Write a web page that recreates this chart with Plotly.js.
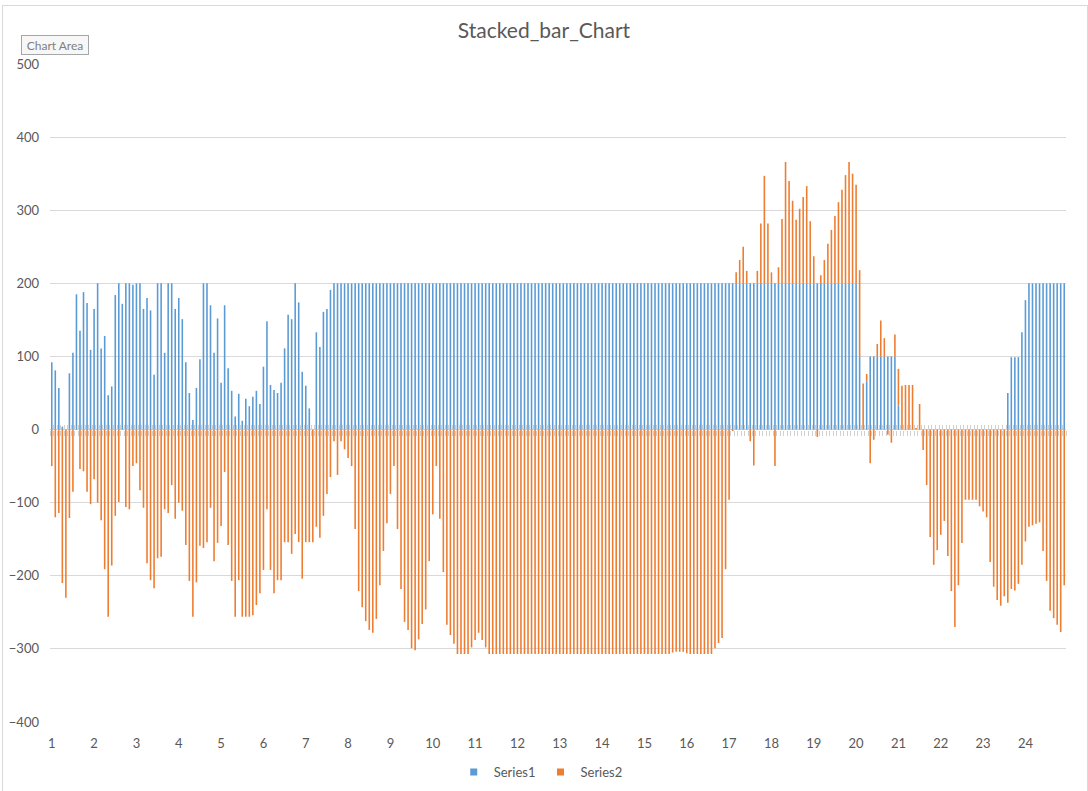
<!DOCTYPE html>
<html>
<head>
<meta charset="utf-8">
<script src="https://cdn.plot.ly/plotly-3.0.1.min.js"></script>
<style>
  html, body { margin: 0; padding: 0; background: #ffffff; }
  #wrap { position: relative; width: 1088px; height: 791px; }
  #chart { width: 1088px; height: 791px; }
  #frame { position: absolute; left: 2px; top: 5px; right: 0px; bottom: -2px; border: 1px solid #d9d9d9; pointer-events: none; }
</style>
</head>
<body>
<div id="wrap">
  <div id="chart"></div>
  <div id="frame"></div>
</div>
<script>
// Tick labels on the category axis (one label every 12 categories)
const hourLabels = ['1','2','3','4','5','6','7','8','9','10','11','12','13','14','15','16','17','18','19','20','21','22','23','24'];
const slotsPerHour = 12;

// Series1 (blue), 288 categories
const series1 = [
  92,81,57,4,0,77,105,185,135,188,
  173,109,165,200,111,128,47,59,184,200,
  172,200,200,198,200,200,165,180,163,75,
  200,200,105,200,200,165,180,151,92,50,
  13,57,96,200,200,170,105,152,64,170,
  84,53,18,49,12,42,32,45,53,35,
  86,148,61,54,50,64,111,157,151,200,
  174,79,60,29,0,133,113,161,165,191,
  200,200,200,200,200,200,200,200,200,200,
  200,200,200,200,200,200,200,200,200,200,
  200,200,200,200,200,200,200,200,200,200,
  200,200,200,200,200,200,200,200,200,200,
  200,200,200,200,200,200,200,200,200,200,
  200,200,200,200,200,200,200,200,200,200,
  200,200,200,200,200,200,200,200,200,200,
  200,200,200,200,200,200,200,200,200,200,
  200,200,200,200,200,200,200,200,200,200,
  200,200,200,200,200,200,200,200,200,200,
  200,200,200,200,200,200,200,200,200,200,
  200,200,200,200,200,200,200,200,200,200,
  200,200,200,200,200,200,200,200,200,200,
  200,200,200,200,200,200,200,200,200,200,
  200,200,200,200,200,200,200,200,200,100,
  0,66,100,100,100,100,100,100,100,100,
  33,0,0,0,0,0,0,0,0,0,
  0,0,0,0,0,0,0,0,0,0,
  0,0,0,0,0,0,0,0,0,0,
  0,50,99,99,99,133,177,200,200,200,
  200,200,200,200,200,200,200,200
];

// Series2 (orange), 288 categories
const series2 = [
  -50,-120,-114,-210,-230,-121,-85,0,-54,-57,
  -85,-102,-68,-100,-124,-191,-256,-186,-118,-99,
  0,-106,-109,-50,-46,-83,-107,-183,-206,-217,
  -176,-174,-109,-114,-76,-122,-100,-111,-158,-207,
  -256,-209,-159,-162,-154,-107,-180,-155,-132,-58,
  -158,-207,-256,-206,-256,-256,-256,-254,-240,-224,
  -192,-109,-192,-224,-206,-206,-154,-154,-170,-143,
  -154,-204,-154,-154,-154,-133,-148,-118,-88,-65,
  -16,-62,-16,-27,-39,-50,-136,-221,-243,-262,
  -274,-278,-259,-213,-166,-128,-88,-50,-136,-218,
  -263,-274,-299,-302,-287,-266,-246,-180,-116,-50,
  -122,-195,-267,-281,-293,-307,-307,-307,-307,-298,
  -288,-278,-288,-298,-307,-307,-307,-307,-307,-307,
  -307,-307,-307,-307,-307,-307,-307,-307,-307,-307,
  -307,-307,-307,-307,-307,-307,-307,-307,-307,-307,
  -307,-307,-307,-307,-307,-307,-307,-307,-307,-307,
  -307,-307,-307,-307,-307,-307,-307,-307,-307,-307,
  -307,-307,-307,-307,-307,-307,-305,-304,-304,-304,
  -306,-307,-307,-307,-307,-307,-307,-307,-299,-292,
  -285,-191,-96,-2,15,32,50,17,-16,-49,
  17,82,147,82,15,-50,22,88,166,140,
  113,87,102,118,133,85,37,-10,11,32,
  54,73,92,111,128,148,166,150,135,118,
  63,10,-46,-14,17,49,25,-7,-18,30,
  50,60,61,61,61,2,35,-28,-76,-147,
  -185,-165,-144,-125,-173,-221,-270,-213,-155,-96,
  -96,-96,-96,-105,-112,-120,-181,-215,-233,-241,
  -228,-237,-218,-220,-211,-185,-153,-133,-131,-129,
  -127,-166,-207,-248,-258,-267,-277,-213
];

const seriesNames = ['Series1', 'Series2'];
const seriesColors = ['#5B9BD5', '#ED7D31'];

// category positions (one per value) and the labelled categories
const xs = series1.map((_, i) => i);
const tickPositions = hourLabels.map((_, k) => k * slotsPerHour);

const yMin = -400, yMax = 500;
const zeroFrac = (0 - yMin) / (yMax - yMin);
const xRange = [-0.5, series1.length - 0.5];

const txtColor = '#595959';
const font = 'Lato, "Open Sans", "Liberation Sans", sans-serif';

const traces = [
  { type: 'bar', name: seriesNames[0], x: xs, y: series1, marker: { color: seriesColors[0] }, showlegend: false, hoverinfo: 'x+y' },
  { type: 'bar', name: seriesNames[1], x: xs, y: series2, marker: { color: seriesColors[1] }, showlegend: false, hoverinfo: 'x+y' },
  // legend keys (small squares like the original)
  { type: 'scatter', name: seriesNames[0], x: [null], y: [null], mode: 'markers', marker: { symbol: 'square', size: 7, color: seriesColors[0] }, showlegend: true, hoverinfo: 'skip' },
  { type: 'scatter', name: seriesNames[1], x: [null], y: [null], mode: 'markers', marker: { symbol: 'square', size: 7, color: seriesColors[1] }, showlegend: true, hoverinfo: 'skip' },
  // carriers for the crossing tick marks on the zero line
  { type: 'scatter', x: [0], y: [0], xaxis: 'x2', mode: 'markers', marker: { opacity: 0 }, showlegend: false, hoverinfo: 'skip' },
  { type: 'scatter', x: [0], y: [0], xaxis: 'x3', mode: 'markers', marker: { opacity: 0 }, showlegend: false, hoverinfo: 'skip' }
];

const tickAxis = (dir) => ({
  overlaying: 'x', anchor: 'free', position: zeroFrac, side: 'bottom',
  range: xRange, tickmode: 'linear', tick0: -0.5, dtick: 1,
  ticks: dir, ticklen: 5, tickwidth: 1, tickcolor: '#d0d0d0',
  showticklabels: false, showgrid: false, zeroline: false, showline: false
});

const layout = {
  width: 1088, height: 791,
  paper_bgcolor: '#ffffff', plot_bgcolor: '#ffffff',
  margin: { l: 50, r: 22, t: 64, b: 69, autoexpand: false },
  barmode: 'relative', bargap: 0.55,
  font: { family: font, color: txtColor, size: 13 },
  title: { text: 'Stacked_bar_Chart', x: 0.5, xref: 'container', xanchor: 'center', y: 0.961, yref: 'container', yanchor: 'middle',
           font: { family: font, size: 21, color: txtColor } },
  xaxis: {
    range: xRange, tickmode: 'array', tickvals: tickPositions, ticktext: hourLabels,
    showgrid: false, zeroline: false, showline: false, ticks: '', automargin: false,
    tickfont: { size: 13, color: txtColor }, ticklabelstandoff: 12
  },
  xaxis2: tickAxis('outside'),
  xaxis3: tickAxis('inside'),
  yaxis: {
    range: [yMin, yMax], dtick: 100, tick0: 0, automargin: false,
    showgrid: true, gridcolor: '#d9d9d9', gridwidth: 1,
    zeroline: true, zerolinecolor: '#d0d0d0', zerolinewidth: 1,
    showline: false, ticks: '', tickfont: { size: 13, color: txtColor }, ticklabelstandoff: 10
  },
  legend: { orientation: 'h', x: 0.497, xref: 'container', xanchor: 'center', y: 0.024, yref: 'container', yanchor: 'middle',
            font: { size: 13, color: txtColor }, itemwidth: 30, traceorder: 'normal' },
  annotations: [
    { text: 'Chart Area', xref: 'paper', yref: 'paper', x: 0.005, y: 1.029, xanchor: 'center', yanchor: 'middle',
      showarrow: false, font: { size: 12, color: '#7f7f7f', family: font }, width: 62, height: 14,
      bordercolor: '#a6a6a6', borderwidth: 1, borderpad: 2, bgcolor: '#f7f7f7' }
  ]
};

Plotly.newPlot('chart', traces, layout, { staticPlot: true, displayModeBar: false });
</script>
</body>
</html>
